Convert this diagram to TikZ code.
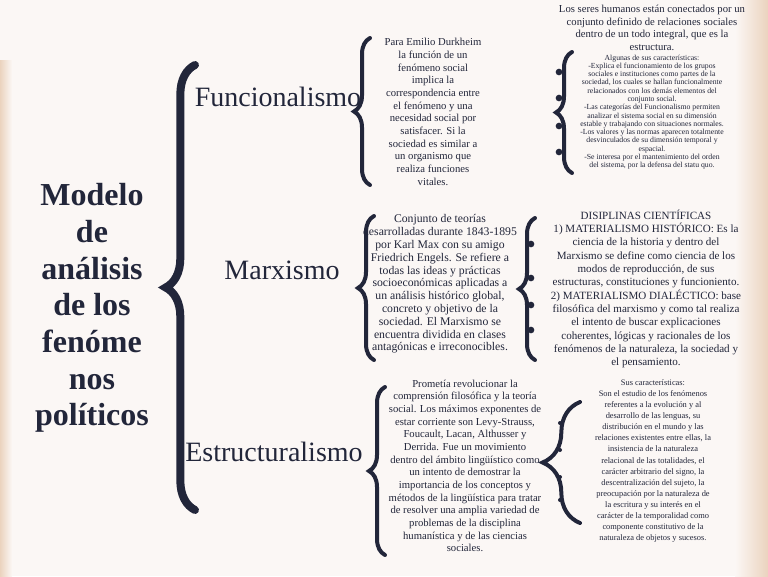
\documentclass[tikz,border=0pt]{standalone}
\usepackage{fontspec}
\setmainfont{Liberation Serif}
\usetikzlibrary{decorations.pathreplacing}
\definecolor{ink}{HTML}{22263A}
\definecolor{paper}{HTML}{FBF7F5}
\definecolor{sand}{HTML}{EBD3BE}
\begin{document}
\begin{tikzpicture}[x=0.75pt,y=-0.75pt]
	\tikzstyle{brace} = [draw=ink,line width=3pt,line cap=round,decorate,decoration={brace,amplitude=12pt}]
	\tikzstyle{bigbrace} = [draw=ink,line width=6pt,line cap=round,decorate,decoration={brace,amplitude=22pt}]
	\tikzstyle{txt} = [text=ink,align=center,inner sep=0pt,font=\fontsize{8}{9.5}\selectfont]
	\tikzstyle{tiny} = [text=ink,align=center,inner sep=0pt,font=\fontsize{5.8}{6.2}\selectfont]
	\tikzstyle{branch} = [text=ink,inner sep=0pt,font=\fontsize{21}{24}\selectfont]
	\tikzstyle{dot} = [fill=ink,shape=circle,minimum size=5pt,inner sep=0pt]

	% background
	\fill[paper] (0,0) rectangle (768,576);
	\shade[left color=paper,right color=sand] (735,0) rectangle (768,576);
	\shade[left color=sand,right color=paper] (0,60) rectangle (12,576);

	% title
	\node[text=ink,align=center,font=\fontsize{24}{27.5}\selectfont\bfseries] (title) at (92,308)
		{Modelo\\de\\análisis\\de los\\fenóme\\nos\\políticos};
	\draw[bigbrace] (195,510) -- (195,65);

	\node[branch] (func) at (278,97) {Funcionalismo};
	\node[branch] (marx) at (282,270) {Marxismo};
	\node[branch] (estr) at (274,452) {Estructuralismo};

	% Funcionalismo
	\draw[brace] (370,185) -- (370,38);
	\node[txt] (durk) at (433,112) {Para Emilio Durkheim\\la función de un\\fenómeno social\\implica la\\correspondencia entre\\el fenómeno y una\\necesidad social por\\satisfacer. Si la\\sociedad es similar a\\un organismo que\\realiza funciones\\vitales.};
	\node[txt] (seres) at (652,28) {Los seres humanos están conectados por un\\conjunto definido de relaciones sociales\\dentro de un todo integral, que es la\\estructura.};
	\draw[brace] (572,173) -- (572,52);
	\foreach \y in {72,98,126,152}
		\node[dot] at (559,\y) {};
	\node[tiny] (caract) at (652,112) {Algunas de sus características:\\-Explica el funcionamiento de los grupos\\sociales e instituciones como partes de la\\sociedad, los cuales se hallan funcionalmente\\relacionados con los demás elementos del\\conjunto social.\\-Las categorías del Funcionalismo permiten\\analizar el sistema social en su dimensión\\estable y trabajando con situaciones normales.\\-Los valores y las normas aparecen totalmente\\desvinculados de su dimensión temporal y\\espacial.\\-Se interesa por el mantenimiento del orden\\del sistema, por la defensa del statu quo.};

	% Marxismo
	\draw[brace] (374,360) -- (374,216);
	\node[txt,font=\fontsize{8.8}{9.6}\selectfont] (teorias) at (440,284) {Conjunto de teorías\\desarrolladas durante 1843-1895\\por Karl Max con su amigo\\Friedrich Engels. Se refiere a\\todas las ideas y prácticas\\socioeconómicas aplicadas a\\un análisis histórico global,\\concreto y objetivo de la\\sociedad. El Marxismo se\\encuentra dividida en clases\\antagónicas e irreconocibles.};
	\draw[brace] (535,360) -- (535,218);
	\foreach \y in {244,278,305,330}
		\node[dot] at (531,\y) {};
	\node[txt,font=\fontsize{8.3}{10}\selectfont] (discip) at (646,289) {DISIPLINAS CIENTÍFICAS\\1) MATERIALISMO HISTÓRICO: Es la\\ciencia de la historia y dentro del\\Marxismo se define como ciencia de los\\modos de reproducción, de sus\\estructuras, constituciones y funcioniento.\\2) MATERIALISMO DIALÉCTICO: base\\filosófica del marxismo y como tal realiza\\el intento de buscar explicaciones\\coherentes, lógicas y racionales de los\\fenómenos de la naturaleza, la sociedad y\\el pensamiento.};

	% Estructuralismo
	\draw[brace] (385,555) -- (385,387);
	\node[txt] (prometia) at (465,466) {Prometía revolucionar la\\comprensión filosófica y la teoría\\social. Los máximos exponentes de\\estar corriente son Levy-Strauss,\\Foucault, Lacan, Althusser y\\Derrida. Fue un movimiento\\dentro del ámbito lingüístico como\\un intento de demostrar la\\importancia de los conceptos y\\métodos de la lingüística para tratar\\de resolver una amplia variedad de\\problemas de la disciplina\\humanística y de las ciencias\\sociales.};
	\draw[brace,decoration={brace,amplitude=28pt}] (580,523) -- (580,402);
	\foreach \y in {423,450,477,500}
		\node[dot,minimum size=3pt] at (560,\y) {};
	\node[tiny,font=\fontsize{6.3}{8.3}\selectfont] (sus) at (653,461) {Sus características:\\Son el estudio de los fenómenos\\referentes a la evolución y al\\desarrollo de las lenguas, su\\distribución en el mundo y las\\relaciones existentes entre ellas, la\\insistencia de la naturaleza\\relacional de las totalidades, el\\carácter arbitrario del signo, la\\descentralización del sujeto, la\\preocupación  por la naturaleza de\\la escritura y su interés en el\\carácter de la temporalidad como\\componente constitutivo de la\\naturaleza de objetos y sucesos.};
\end{tikzpicture}
\end{document}
